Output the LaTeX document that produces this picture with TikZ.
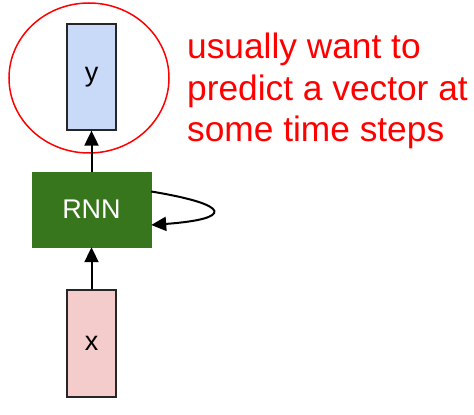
\documentclass[tikz,border=0pt]{standalone}
\usepackage{fontspec}
\setmainfont{Liberation Sans}
\usetikzlibrary{arrows.meta,shapes.geometric}
\definecolor{ybox}{HTML}{C9DAF8}
\definecolor{xbox}{HTML}{F4CCCC}
\definecolor{rnngreen}{HTML}{38761D}
\definecolor{note}{HTML}{FF0000}
\begin{document}
\begin{tikzpicture}[x=1pt,y=1pt,
  vecbox/.style={draw=black!85,line width=1.3pt,minimum width=49pt,inner sep=0pt,font=\fontsize{27}{31}\selectfont},
  rnnbox/.style={fill=rnngreen,draw=rnngreen,minimum width=119pt,minimum height=75pt,inner sep=0pt,text=white,font=\fontsize{27}{31}\selectfont},
  conn/.style={line width=2pt,-{Triangle[length=15pt,width=14pt]}},
  ring/.style={ellipse,draw=note,line width=1.5pt,minimum width=160pt,minimum height=150pt,inner sep=0pt},
  notetext/.style={text=note,align=left,inner sep=0pt,font=\fontsize{35.3}{41.5}\selectfont}]
\useasboundingbox (0,0) rectangle (474,415);
\node[vecbox,fill=ybox,minimum height=106pt] (y) at (91.5,338) {y};
\node[ring] (ring) at (89,337) {};
\node[rnnbox] (rnn) at (91.5,205.5) {RNN};
\node[vecbox,fill=xbox,minimum height=107pt] (x) at (91.5,71.5) {x};
\node[notetext,anchor=north west] (note) at (187,382) {usually want to\\predict a vector at\\some time steps};
\coordinate (loopout) at ([yshift=18pt]rnn.east);
\coordinate (loopin) at ([yshift=-15.5pt]rnn.east);
\draw[conn] (rnn.north) -- (y.south);
\draw[conn] (x.north) -- (rnn.south);
\draw[conn] (loopout) .. controls (233,210) and (233,196) .. (loopin);
\end{tikzpicture}
\end{document}
